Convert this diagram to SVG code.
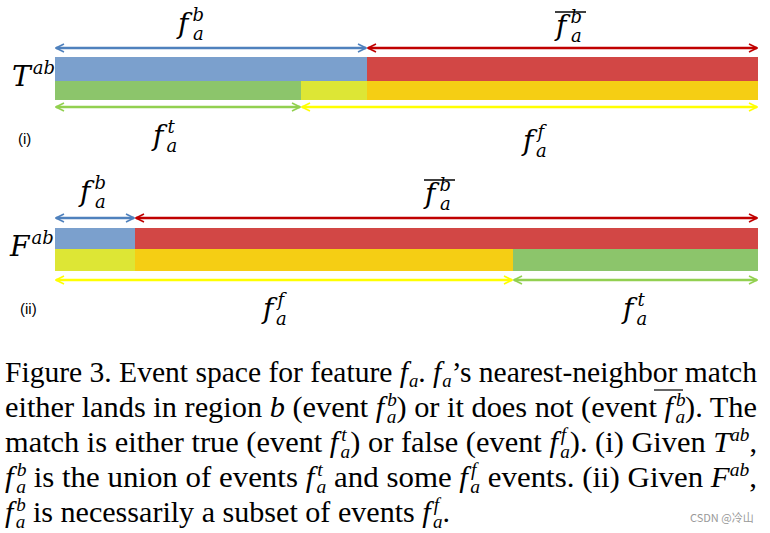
<svg xmlns="http://www.w3.org/2000/svg" width="770" height="533" viewBox="0 0 770 533">
<style>
.m{font-family:"DejaVu Serif","Liberation Serif",serif;font-style:italic;fill:#000}
.lbl{font-size:28px}
.s{font-size:18px}
.r{font-family:"Liberation Sans",sans-serif;font-size:15px}
.c{font-family:"Liberation Serif",serif;font-size:30px}
.i{font-style:italic}
.ss{font-size:19px;font-style:italic}
.ar{stroke-width:2.5;fill:none}
</style>
<defs>
<marker id="h" viewBox="0 0 10 10" refX="9" refY="5" markerWidth="4" markerHeight="4" orient="auto-start-reverse" markerUnits="strokeWidth"><path d="M1,1 L9,5 L1,9" fill="none" stroke="context-stroke" stroke-width="1.6"/></marker>
</defs>
<rect width="770" height="533" fill="#fff"/>
<g id="barT">
<rect x="55" y="57" width="312" height="24" fill="#7BA0CD"/>
<rect x="367" y="57" width="391" height="24" fill="#D24745"/>
<rect x="55" y="81" width="246" height="19" fill="#8CC56B"/>
<rect x="301" y="81" width="66" height="19" fill="#DDE635"/>
<rect x="367" y="81" width="391" height="19" fill="#F5CE14"/>
</g>
<g id="barF">
<rect x="55" y="228" width="80" height="21" fill="#7BA0CD"/>
<rect x="135" y="228" width="623" height="21" fill="#D24745"/>
<rect x="55" y="249" width="80" height="22" fill="#DDE635"/>
<rect x="135" y="249" width="378" height="22" fill="#F5CE14"/>
<rect x="513" y="249" width="245" height="22" fill="#8CC56B"/>
</g>
<g id="connectors" class="ar">
<line x1="56" y1="48" x2="366" y2="48" stroke="#4F81BD" marker-start="url(#h)" marker-end="url(#h)"/>
<line x1="368" y1="48" x2="757" y2="48" stroke="#C00000" marker-start="url(#h)" marker-end="url(#h)"/>
<line x1="56" y1="107" x2="300" y2="107" stroke="#92D050" marker-start="url(#h)" marker-end="url(#h)"/>
<line x1="302" y1="107" x2="757" y2="107" stroke="#FFFF00" marker-start="url(#h)" marker-end="url(#h)"/>
<line x1="56" y1="218" x2="134" y2="218" stroke="#4F81BD" marker-start="url(#h)" marker-end="url(#h)"/>
<line x1="136" y1="218" x2="757" y2="218" stroke="#C00000" marker-start="url(#h)" marker-end="url(#h)"/>
<line x1="56" y1="280" x2="512" y2="280" stroke="#FFFF00" marker-start="url(#h)" marker-end="url(#h)"/>
<line x1="514" y1="280" x2="757" y2="280" stroke="#92D050" marker-start="url(#h)" marker-end="url(#h)"/>
</g>
<g id="labels">
<text class="m lbl" x="178" y="33">f<tspan class="s" dx="4" dy="-12">b</tspan><tspan class="s" dx="-11" dy="19">a</tspan></text>
<text class="m lbl" x="556" y="35">f<tspan class="s" dx="4" dy="-12">b</tspan><tspan class="s" dx="-11" dy="19">a</tspan></text>
<line x1="555" y1="12" x2="586" y2="12" stroke="#000" stroke-width="1.5"/>
<text class="m lbl" x="12" y="86">T<tspan class="s" dx="2" dy="-12">ab</tspan></text>
<text class="r" x="18" y="144">(i)</text>
<text class="m lbl" x="153" y="145">f<tspan class="s" dx="4" dy="-12">t</tspan><tspan class="s" dx="-8" dy="19">a</tspan></text>
<text class="m lbl" x="523" y="150">f<tspan class="s" dx="4" dy="-12">f</tspan><tspan class="s" dx="-8" dy="19">a</tspan></text>
<text class="m lbl" x="80" y="201">f<tspan class="s" dx="4" dy="-12">b</tspan><tspan class="s" dx="-11" dy="19">a</tspan></text>
<text class="m lbl" x="425" y="203">f<tspan class="s" dx="4" dy="-12">b</tspan><tspan class="s" dx="-11" dy="19">a</tspan></text>
<line x1="424" y1="180" x2="455" y2="180" stroke="#000" stroke-width="1.5"/>
<text class="m lbl" x="10" y="256">F<tspan class="s" dx="2" dy="-12">ab</tspan></text>
<text class="r" x="20" y="314">(ii)</text>
<text class="m lbl" x="263" y="318">f<tspan class="s" dx="4" dy="-12">f</tspan><tspan class="s" dx="-8" dy="19">a</tspan></text>
<text class="m lbl" x="623" y="318">f<tspan class="s" dx="4" dy="-12">t</tspan><tspan class="s" dx="-8" dy="19">a</tspan></text>
</g>
<g id="caption" class="c">
<text x="5" y="382" textLength="752" lengthAdjust="spacingAndGlyphs">Figure 3. Event space for feature <tspan class="i">f</tspan><tspan class="ss" dx="1" dy="5">a</tspan><tspan dy="-5">. </tspan><tspan class="i">f</tspan><tspan class="ss" dx="1" dy="5">a</tspan><tspan dy="-5">’s nearest-neighbor match</tspan></text>
<text x="5" y="417" textLength="752" lengthAdjust="spacingAndGlyphs">either lands in region <tspan class="i">b</tspan> (event <tspan class="i">f</tspan><tspan class="ss" dx="3" dy="-11">b</tspan><tspan class="ss" dx="-10" dy="17">a</tspan><tspan dy="-6">) or it does not (event </tspan><tspan class="i">f</tspan><tspan class="ss" dx="3" dy="-11">b</tspan><tspan class="ss" dx="-10" dy="17">a</tspan><tspan dy="-6">). The</tspan></text>
<line x1="654" y1="390" x2="683" y2="390" stroke="#000" stroke-width="1.2"/>
<text x="5" y="452" textLength="752" lengthAdjust="spacingAndGlyphs">match is either true (event <tspan class="i">f</tspan><tspan class="ss" dx="3" dy="-11">t</tspan><tspan class="ss" dx="-6" dy="17">a</tspan><tspan dy="-6">) or false (event </tspan><tspan class="i">f</tspan><tspan class="ss" dx="3" dy="-11">f</tspan><tspan class="ss" dx="-6" dy="17">a</tspan><tspan dy="-6">). (i) Given </tspan><tspan class="i">T</tspan><tspan class="ss" dy="-11">ab</tspan><tspan dy="11">,</tspan></text>
<text x="5" y="487" textLength="752" lengthAdjust="spacingAndGlyphs"><tspan class="i">f</tspan><tspan class="ss" dx="3" dy="-11">b</tspan><tspan class="ss" dx="-10" dy="17">a</tspan><tspan dy="-6"> is the union of events </tspan><tspan class="i">f</tspan><tspan class="ss" dx="3" dy="-11">t</tspan><tspan class="ss" dx="-6" dy="17">a</tspan><tspan dy="-6"> and some </tspan><tspan class="i">f</tspan><tspan class="ss" dx="3" dy="-11">f</tspan><tspan class="ss" dx="-6" dy="17">a</tspan><tspan dy="-6"> events. (ii) Given </tspan><tspan class="i">F</tspan><tspan class="ss" dy="-11">ab</tspan><tspan dy="11">,</tspan></text>
<text x="5" y="522" textLength="445" lengthAdjust="spacingAndGlyphs"><tspan class="i">f</tspan><tspan class="ss" dx="3" dy="-11">b</tspan><tspan class="ss" dx="-10" dy="17">a</tspan><tspan dy="-6"> is necessarily a subset of events </tspan><tspan class="i">f</tspan><tspan class="ss" dx="3" dy="-11">f</tspan><tspan class="ss" dx="-6" dy="17">a</tspan><tspan dy="-6">.</tspan></text>
</g>
<text x="690" y="522" font-family="'Noto Sans CJK SC',sans-serif" font-size="11" fill="#999">CSDN @冷山</text>
</svg>
